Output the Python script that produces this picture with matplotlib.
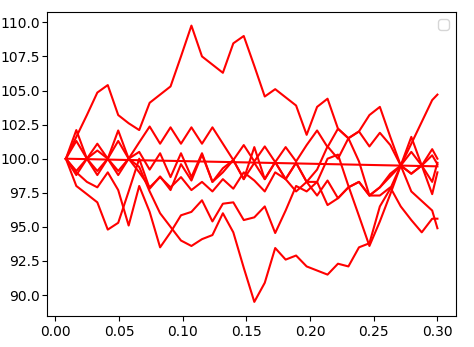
import numpy as np
import matplotlib
matplotlib.use("Agg")
import matplotlib.pyplot as plt

# time grid (3 day steps, last point at 0.3)
t = [0.0082, 0.0164, 0.0247, 0.0329, 0.0411, 0.0493, 0.0575, 0.0658, 0.0740,
     0.0822, 0.0904, 0.0986, 0.1068, 0.1151, 0.1233, 0.1315, 0.1397, 0.1479,
     0.1562, 0.1644, 0.1726, 0.1808, 0.1890, 0.1973, 0.2055, 0.2137, 0.2219,
     0.2301, 0.2384, 0.2466, 0.2548, 0.2630, 0.2712, 0.2795, 0.2877, 0.2959,
     0.3000]

# simulated price paths
p1 = [100, 101.6, 103.2, 104.85, 105.4, 103.2, 102.6, 102.1, 104.1, 104.7,
      105.3, 107.5, 109.76, 107.5, 106.9, 106.3, 108.46, 109.0, 106.8, 104.56,
      105.1, 104.5, 103.9, 101.75, 103.8, 104.4, 102.2, 101.5, 102.0, 103.2,
      103.8, 101.6, 99.5, 97.6, 96.9, 96.2, 94.9]
p2 = [100, 102.1, 100, 101.1, 100, 102.07, 100, 101.2, 102.36, 101.1,
      102.3, 101.1, 102.3, 101.1, 102.3, 101.1, 99.9, 101.0, 99.8, 100.9,
      99.75, 100.85, 99.8, 101.0, 102.07, 100.85, 102.2, 101.5, 102.0, 100.9,
      101.9, 101.0, 99.5, 101.6, 99.5, 100.7, 100.0]
p3 = [100, 101.3, 100, 100.6, 100, 101.3, 100, 100.5, 99.2, 100.4,
      98.65, 100.4, 98.65, 100.4, 98.3, 99.0, 99.9, 98.5, 99.7, 98.5,
      99.75, 98.5, 99.7, 98.3, 98.3, 100.0, 100.3, 98.0, 95.8, 93.6,
      95.4, 97.4, 99.5, 101.1, 102.7, 104.3, 104.7]
p4 = [100, 99.1, 100, 98.8, 100, 99.1, 100, 99.0, 97.9, 98.65,
      97.9, 98.65, 97.7, 98.3, 97.6, 98.5, 97.8, 99.0, 98.4, 97.6,
      99.0, 98.5, 97.6, 98.3, 97.3, 98.4, 97.1, 97.9, 98.3, 97.3,
      97.9, 98.7, 99.5, 98.9, 99.5, 97.4, 99.0]
p5 = [100, 98.0, 97.4, 96.8, 94.8, 95.3, 97.6, 100.0, 97.8, 98.7,
      97.7, 99.6, 98.4, 100.3, 98.3, 99.3, 99.9, 98.5, 100.85, 98.5,
      99.75, 98.5, 99.7, 98.3, 99.2, 100.9, 100.0, 101.5, 99.8, 97.3,
      97.9, 98.9, 99.5, 100.5, 99.5, 98.3, 99.7]
p6 = [100, 99.0, 98.3, 97.9, 99.0, 97.7, 95.1, 98.0, 96.1, 93.5,
      94.6, 95.85, 96.1, 96.95, 95.4, 96.7, 96.8, 95.5, 95.7, 96.5,
      94.55, 96.2, 98.0, 97.6, 98.3, 96.6, 97.1, 97.9, 98.3, 97.3,
      97.3, 97.9, 96.5, 95.5, 94.6, 95.6, 95.6]
p7 = [100, 98.8, 100, 99.1, 100, 98.8, 100, 99.4, 97.6, 96.0,
      95.0, 94.0, 93.6, 94.1, 94.4, 96.0, 94.6, 92.0, 89.5, 90.9,
      93.45, 92.6, 92.9, 92.1, 91.8, 91.5, 92.3, 92.1, 93.5, 93.8,
      96.5, 97.8, 99.5, 98.9, 99.5, 100.25, 99.6]
paths = [p1, p2, p3, p4, p5, p6, p7]

# drift line
line_t = [0.0082, 0.3000]
line_v = [100.0, 99.44]

plt.rcParams['ytick.major.pad'] = 1.5

fig = plt.figure(figsize=(4.74, 3.47), dpi=100)
ax = fig.add_axes([0.0998, 0.0902, 0.8622, 0.8758])
for p in paths:
    ax.plot(t, p, color='red')
ax.plot(line_t, line_v, color='red')
ax.legend()

fig.savefig('out.png', dpi=100)
